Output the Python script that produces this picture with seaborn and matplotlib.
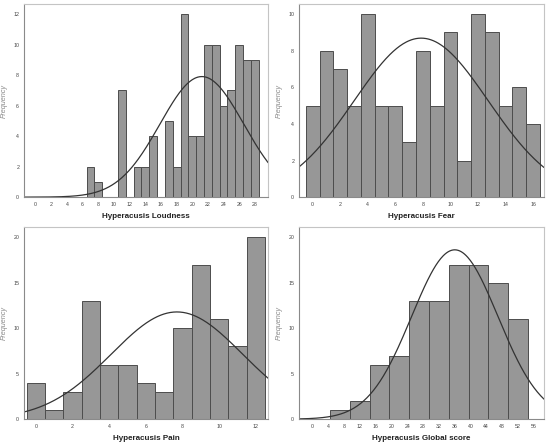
import numpy as np
import pandas as pd
import matplotlib
matplotlib.use("Agg")
import matplotlib.pyplot as plt
import seaborn as sns

# ------------------------------
# Data (score value -> frequency)
# ------------------------------
loud_x = [7, 8, 11, 13, 14, 15, 17, 18, 19, 20, 21, 22, 23, 24, 25, 26, 27, 28]
loud_n = [2, 1, 7, 2, 2, 4, 5, 2, 12, 4, 4, 10, 10, 6, 7, 10, 9, 9]

fear_x = list(range(0, 17))
fear_n = [5, 8, 7, 5, 10, 5, 5, 3, 8, 5, 9, 2, 10, 9, 5, 6, 4]

pain_x = list(range(0, 13))
pain_n = [4, 1, 3, 13, 6, 6, 4, 3, 10, 17, 11, 8, 20]

glob_edges = [4.5, 9.5, 14.5, 19.5, 24.5, 29.5, 34.5, 39.5, 44.5, 49.5, 54.5]
glob_n = [1, 2, 6, 7, 13, 13, 17, 17, 15, 11]

titles = ["Hyperacusis Loudness", "Hyperacusis Fear",
          "Hyperacusis Pain", "Hyperacusis Global score"]

sns.set_style("white")
plt.rcParams["font.family"] = ["Liberation Sans", "DejaVu Sans"]

fig = plt.figure(figsize=(5.5, 4.44), dpi=100)

# axes boxes (left, bottom, width, height) in figure fraction
boxes = [
    [0.0436, 0.556, 0.444, 0.435],
    [0.5436, 0.556, 0.4455, 0.435],
    [0.0436, 0.056, 0.444, 0.432],
    [0.5436, 0.056, 0.4455, 0.432],
]

BAR = "#979797"
EDGE = "#4d4d4d"


def style_axis(ax, xlabel):
    for s in ["top", "right"]:
        ax.spines[s].set_color("#c4c4c4")
    for s in ["left", "bottom"]:
        ax.spines[s].set_color("#8a8a8a")
    for s in ax.spines.values():
        s.set_linewidth(0.8)
    ax.tick_params(axis="both", which="both", direction="out", length=2,
                   width=0.5, color="#777777", labelsize=3.8,
                   labelcolor="#444444", pad=1.5)
    ax.set_xlabel(xlabel, fontsize=5.8, fontweight="bold", labelpad=4,
                  color="#222222")
    ax.set_ylabel("Frequency", fontsize=5.2, color="#8a8a8a", labelpad=4,
                  fontstyle="italic")


def normal_curve(ax, centers, counts, width, xlim):
    c = np.asarray(centers, dtype=float)
    n = np.asarray(counts, dtype=float)
    tot = n.sum()
    mu = (c * n).sum() / tot
    sd = np.sqrt((n * (c - mu) ** 2).sum() / (tot - 1))
    xs = np.linspace(xlim[0], xlim[1], 300)
    ys = tot * width * np.exp(-0.5 * ((xs - mu) / sd) ** 2) / (sd * np.sqrt(2 * np.pi))
    sns.lineplot(x=xs, y=ys, ax=ax, color="#333333", linewidth=0.9)


# 1. Loudness
ax = fig.add_axes(boxes[0])
df = pd.DataFrame({"v": loud_x, "n": loud_n})
sns.histplot(data=df, x="v", weights="n", discrete=True, ax=ax,
             color=BAR, edgecolor=EDGE, linewidth=0.7, alpha=1)
xl = (-1.5, 29.7)
normal_curve(ax, loud_x, loud_n, 1, xl)
ax.set_xlim(*xl)
ax.set_ylim(0, 12.66)
ax.set_xticks(range(0, 29, 2))
ax.set_yticks(range(0, 13, 2))
style_axis(ax, titles[0])

# 2. Fear
ax = fig.add_axes(boxes[1])
df = pd.DataFrame({"v": fear_x, "n": fear_n})
sns.histplot(data=df, x="v", weights="n", discrete=True, ax=ax,
             color=BAR, edgecolor=EDGE, linewidth=0.7, alpha=1)
xl = (-1.0, 16.8)
normal_curve(ax, fear_x, fear_n, 1, xl)
ax.set_xlim(*xl)
ax.set_ylim(0, 10.55)
ax.set_xticks(range(0, 17, 2))
ax.set_yticks(range(0, 11, 2))
style_axis(ax, titles[1])

# 3. Pain
ax = fig.add_axes(boxes[2])
df = pd.DataFrame({"v": pain_x, "n": pain_n})
sns.histplot(data=df, x="v", weights="n", discrete=True, ax=ax,
             color=BAR, edgecolor=EDGE, linewidth=0.7, alpha=1)
xl = (-0.65, 12.68)
normal_curve(ax, pain_x, pain_n, 1, xl)
ax.set_xlim(*xl)
ax.set_ylim(0, 21.1)
ax.set_xticks(range(0, 13, 2))
ax.set_yticks(range(0, 21, 5))
style_axis(ax, titles[2])

# 4. Global score
ax = fig.add_axes(boxes[3])
centers = [(a + b) / 2 for a, b in zip(glob_edges[:-1], glob_edges[1:])]
df = pd.DataFrame({"v": centers, "n": glob_n})
sns.histplot(data=df, x="v", weights="n", bins=glob_edges, ax=ax,
             color=BAR, edgecolor=EDGE, linewidth=0.7, alpha=1)
xl = (-3.4, 58.6)
normal_curve(ax, centers, glob_n, 5, xl)
ax.set_xlim(*xl)
ax.set_ylim(0, 21.1)
ax.set_xticks(range(0, 57, 4))
ax.set_yticks(range(0, 21, 5))
style_axis(ax, titles[3])

fig.savefig("out.png", dpi=100)
plt.close(fig)
